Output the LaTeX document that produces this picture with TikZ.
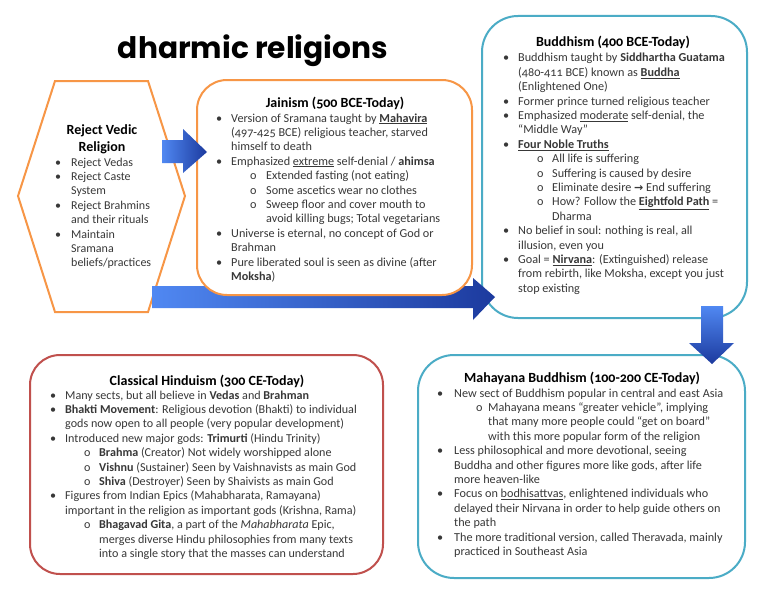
\documentclass[tikz,border=0pt]{standalone}
\usepackage{fontspec}
\usepackage{graphicx}
\setmainfont{Carlito}[Numbers=OldStyle]
\newfontfamily\titlefont{Poppins}
\newfontfamily\symfont{DejaVu Sans}
\definecolor{jorange}{HTML}{F79646}
\definecolor{bblue}{HTML}{4BACC6}
\definecolor{hred}{HTML}{C0504D}
\definecolor{txt}{HTML}{383838}
\definecolor{arrlight}{HTML}{5088F2}
\definecolor{arrdark}{HTML}{1C3A9E}
\newlength\Ta
\newlength\Sa
\newlength\Sb
\newcommand\Bl[1]{\hbox{\makebox[\Ta][l]{\textbullet}#1}}
\newcommand\Cl[1]{\hbox{\hspace*{\Ta}#1}}
\newcommand\Sl[1]{\hbox{\hspace*{\Sa}\makebox[\dimexpr\Sb-\Sa\relax][l]{o}#1}}
\newcommand\Dl[1]{\hbox{\hspace*{\Sb}#1}}
\newcommand\ub[1]{\textbf{\underline{#1}}}
\newcommand\setind[3]{\setlength\Ta{#1pt}\setlength\Sa{#2pt}\setlength\Sb{#3pt}}
\newcommand\lines[1]{\vtop{\baselineskip=14.4pt\lineskiplimit=-20pt\lineskip=0pt #1}}
\begin{document}
\begin{tikzpicture}[x=1pt,y=-1pt,
  boxline/.style={line width=2pt, fill=white, rounded corners=#1},
  boxtitle/.style={anchor=base, inner sep=0pt, text=black, font=\bfseries\fontsize{14}{16}\selectfont},
  boxtext/.style={anchor=base west, inner sep=0pt, text=txt, font=\fontsize{12.2}{14.4}\selectfont},
  blockarrow/.style={left color=arrlight, right color=arrdark},
  downarrow/.style={top color=arrlight, bottom color=arrdark}]
\useasboundingbox[fill=white] (0,0) rectangle (768,594);

% title
\node[inner sep=0pt] (title) at (253,51) {\resizebox{270pt}{!}{\titlefont\bfseries dharmic religions}};

% hexagon
\draw[jorange, line width=2pt, fill=white] (55,81) -- (148,81) -- (185,196) -- (148,312) -- (55,312) -- (18,196) -- cycle;
\node[boxtitle] (hexT1) at (102,134.5) {Reject Vedic};
\node[boxtitle] (hexT2) at (102,151.5) {Religion};
\setind{16}{0}{0}
\node[boxtext, font=\fontsize{12}{14.4}\selectfont] (hexB) at (55,166) {\lines{%
\Bl{Reject Vedas}
\Bl{Reject Caste}
\Cl{System}
\Bl{Reject Brahmins}
\Cl{and their rituals}
\Bl{Maintain}
\Cl{Sramana}
\Cl{beliefs/practices}}};

% Buddhism box
\draw[bblue, boxline=36pt] (482,16) rectangle (747,318);
\node[boxtitle] (budT) at (613,47) {Buddhism (400 BCE-Today)};
\setind{15}{34}{49}
\node[boxtext] (budB) at (503,62) {\lines{%
\Bl{Buddhism taught by \textbf{Siddhartha Guatama}}
\Cl{(480-411 BCE) known as \ub{Buddha}}
\Cl{(Enlightened One)}
\Bl{Former prince turned religious teacher}
\Bl{Emphasized \underline{moderate} self-denial, the}
\Cl{“Middle Way”}
\Bl{\ub{Four Noble Truths}}
\Sl{All life is suffering}
\Sl{Suffering is caused by desire}
\Sl{Eliminate desire {\symfont\bfseries\fontsize{11}{12}\selectfont →} End suffering}
\Sl{How? Follow the \ub{Eightfold Path} =}
\Dl{Dharma}
\Bl{No belief in soul: nothing is real, all}
\Cl{illusion, even you}
\Bl{Goal = \ub{Nirvana}: (Extinguished) release}
\Cl{from rebirth, like Moksha, except you just}
\Cl{stop existing}}};

% big horizontal arrow (under Jainism box, over Buddhism box)
\shade[blockarrow] (152,286) -- (473,286) -- (473,278) -- (495,297) -- (473,320) -- (473,308) -- (152,308) -- cycle;

% Jainism box
\draw[jorange, boxline=30pt] (197,80) rectangle (472,295);
\node[boxtitle] (jainT) at (335,107) {Jainism (500 BCE-Today)};
\setind{15}{34}{50}
\node[boxtext] (jainB) at (216,122) {\lines{%
\Bl{Version of Sramana taught by \ub{Mahavira}}
\Cl{(497-425 BCE) religious teacher, starved}
\Cl{himself to death}
\Bl{Emphasized \underline{extreme} self-denial / \textbf{ahimsa}}
\Sl{Extended fasting (not eating)}
\Sl{Some ascetics wear no clothes}
\Sl{Sweep floor and cover mouth to}
\Dl{avoid killing bugs; Total vegetarians}
\Bl{Universe is eternal, no concept of God or}
\Cl{Brahman}
\Bl{Pure liberated soul is seen as divine (after}
\Cl{\textbf{Moksha})}}};

% small arrow hexagon -> Jainism
\shade[blockarrow] (162,140) -- (183,140) -- (183,129) -- (207,152) -- (183,173) -- (183,163) -- (162,163) -- cycle;

% Hinduism box
\draw[hred, boxline=30pt] (30,355) rectangle (383,574);
\node[boxtitle] (hinT) at (207,385) {Classical Hinduism (300 CE-Today)};
\setind{15}{34}{49}
\node[boxtext, font=\fontsize{12.1}{14.4}\selectfont] (hinB) at (50,399) {\lines{%
\Bl{Many sects, but all believe in \textbf{Vedas} and \textbf{Brahman}}
\Bl{\textbf{Bhakti Movement}: Religious devotion (Bhakti) to individual}
\Cl{gods now open to all people (very popular development)}
\Bl{Introduced new major gods: \textbf{Trimurti} (Hindu Trinity)}
\Sl{\textbf{Brahma} (Creator) Not widely worshipped alone}
\Sl{\textbf{Vishnu} (Sustainer) Seen by Vaishnavists as main God}
\Sl{\textbf{Shiva} (Destroyer) Seen by Shaivists as main God}
\Bl{Figures from Indian Epics (Mahabharata, Ramayana)}
\Cl{important in the religion as important gods (Krishna, Rama)}
\Sl{\textbf{Bhagavad Gita}, a part of the \textit{Mahabharata} Epic,}
\Dl{merges diverse Hindu philosophies from many texts}
\Dl{into a single story that the masses can understand}}};

% Mahayana box
\draw[bblue, boxline=36pt] (418,355) rectangle (745,578);
\node[boxtitle] (mahT) at (582,382) {Mahayana Buddhism (100-200 CE-Today)};
\setind{17}{39}{51}
\node[boxtext] (mahB) at (437,397) {\lines{%
\Bl{New sect of Buddhism popular in central and east Asia}
\Sl{Mahayana means “greater vehicle”, implying}
\Dl{that many more people could “get on board”}
\Dl{with this more popular form of the religion}
\Bl{Less philosophical and more devotional, seeing}
\Cl{Buddha and other figures more like gods, after life}
\Cl{more heaven-like}
\Bl{Focus on \underline{bodhisattvas}, enlightened individuals who}
\Cl{delayed their Nirvana in order to help guide others on}
\Cl{the path}
\Bl{The more traditional version, called Theravada, mainly}
\Cl{practiced in Southeast Asia}}};

% down arrow Buddhism -> Mahayana
\shade[downarrow] (701,306) -- (723,306) -- (723,343) -- (734,343) -- (712,364) -- (689,343) -- (701,343) -- cycle;
\end{tikzpicture}
\end{document}
